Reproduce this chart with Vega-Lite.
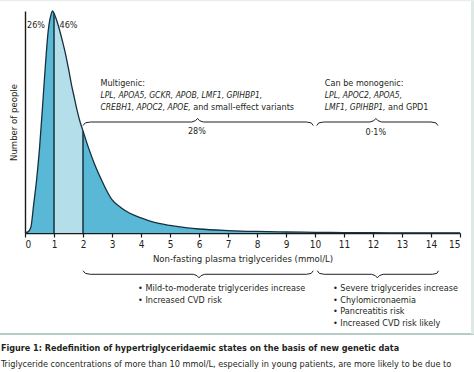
{
  "$schema": "https://vega.github.io/schema/vega-lite/v6.json",
  "width": 435,
  "height": 222,
  "autosize": {"type": "none"},
  "padding": {"left": 25, "top": 11, "right": 14, "bottom": 139},
  "background": "#ffffff",
  "config": {
    "view": {"stroke": null},
    "font": "DejaVu Sans Condensed, Lato, sans-serif",
    "text": {"font": "DejaVu Sans Condensed, Lato, sans-serif", "color": "#231f20", "baseline": "middle"}
  },
  "datasets": {
    "curve": [
      {"x": 0, "y": 0}, {"x": 0.1, "y": 0.5}, {"x": 0.2, "y": 2.5}, {"x": 0.3, "y": 13},
      {"x": 0.4, "y": 24}, {"x": 0.5, "y": 38}, {"x": 0.6, "y": 56}, {"x": 0.7, "y": 75},
      {"x": 0.8, "y": 91}, {"x": 0.9, "y": 98.5}, {"x": 0.95, "y": 100}, {"x": 1.0, "y": 99},
      {"x": 1.1, "y": 95.5}, {"x": 1.2, "y": 91}, {"x": 1.3, "y": 86}, {"x": 1.4, "y": 80.5},
      {"x": 1.5, "y": 74}, {"x": 1.6, "y": 67}, {"x": 1.7, "y": 61}, {"x": 1.8, "y": 55},
      {"x": 1.9, "y": 50}, {"x": 2.0, "y": 46}, {"x": 2.2, "y": 38}, {"x": 2.4, "y": 31},
      {"x": 2.6, "y": 25}, {"x": 2.8, "y": 19.5}, {"x": 3.0, "y": 15}, {"x": 3.3, "y": 11.5},
      {"x": 3.6, "y": 9}, {"x": 4.0, "y": 6.8}, {"x": 4.4, "y": 5}, {"x": 5.0, "y": 3.4},
      {"x": 5.6, "y": 2.3}, {"x": 6.0, "y": 1.8}, {"x": 7.0, "y": 1.1}, {"x": 8.0, "y": 0.7},
      {"x": 9.0, "y": 0.45}, {"x": 10.0, "y": 0.3}, {"x": 11.0, "y": 0.2}, {"x": 12.0, "y": 0.12},
      {"x": 13.0, "y": 0.06}, {"x": 14.0, "y": 0.03}, {"x": 15.0, "y": 0}
    ],
    "braces": [
      {"id": "tl", "o": 0, "x": 2.0, "y": 48.4}, {"id": "tl", "o": 1, "x": 2.08, "y": 49.6}, {"id": "tl", "o": 2, "x": 2.25, "y": 50},
      {"id": "tl", "o": 3, "x": 5.75, "y": 50}, {"id": "tl", "o": 4, "x": 5.88, "y": 50.6}, {"id": "tl", "o": 5, "x": 5.95, "y": 51.6},
      {"id": "tl", "o": 6, "x": 6.02, "y": 50.6}, {"id": "tl", "o": 7, "x": 6.15, "y": 50}, {"id": "tl", "o": 8, "x": 9.7, "y": 50},
      {"id": "tl", "o": 9, "x": 9.87, "y": 49.6}, {"id": "tl", "o": 10, "x": 9.94, "y": 48.4},
      {"id": "tr", "o": 0, "x": 10.06, "y": 48.4}, {"id": "tr", "o": 1, "x": 10.13, "y": 49.6}, {"id": "tr", "o": 2, "x": 10.3, "y": 50},
      {"id": "tr", "o": 3, "x": 11.9, "y": 50}, {"id": "tr", "o": 4, "x": 12.03, "y": 50.6}, {"id": "tr", "o": 5, "x": 12.1, "y": 51.6},
      {"id": "tr", "o": 6, "x": 12.17, "y": 50.6}, {"id": "tr", "o": 7, "x": 12.3, "y": 50}, {"id": "tr", "o": 8, "x": 14.0, "y": 50},
      {"id": "tr", "o": 9, "x": 14.17, "y": 49.6}, {"id": "tr", "o": 10, "x": 14.24, "y": 48.4},
      {"id": "bl", "o": 0, "x": 2.0, "y": -17.0}, {"id": "bl", "o": 1, "x": 2.08, "y": -18.2}, {"id": "bl", "o": 2, "x": 2.25, "y": -18.6},
      {"id": "bl", "o": 3, "x": 5.8, "y": -18.6}, {"id": "bl", "o": 4, "x": 5.93, "y": -19.2}, {"id": "bl", "o": 5, "x": 6.0, "y": -20.2},
      {"id": "bl", "o": 6, "x": 6.07, "y": -19.2}, {"id": "bl", "o": 7, "x": 6.2, "y": -18.6}, {"id": "bl", "o": 8, "x": 9.7, "y": -18.6},
      {"id": "bl", "o": 9, "x": 9.87, "y": -18.2}, {"id": "bl", "o": 10, "x": 9.94, "y": -17.0},
      {"id": "br", "o": 0, "x": 10.08, "y": -17.0}, {"id": "br", "o": 1, "x": 10.15, "y": -18.2}, {"id": "br", "o": 2, "x": 10.32, "y": -18.6},
      {"id": "br", "o": 3, "x": 11.95, "y": -18.6}, {"id": "br", "o": 4, "x": 12.08, "y": -19.2}, {"id": "br", "o": 5, "x": 12.15, "y": -20.2},
      {"id": "br", "o": 6, "x": 12.22, "y": -19.2}, {"id": "br", "o": 7, "x": 12.35, "y": -18.6}, {"id": "br", "o": 8, "x": 14.05, "y": -18.6},
      {"id": "br", "o": 9, "x": 14.2, "y": -18.2}, {"id": "br", "o": 10, "x": 14.26, "y": -17.0}
    ],
    "frame": [
      {"id": "bottom", "x": -0.862, "x2": 15.48, "y": -45.5, "y2": -45.5},
      {"id": "right", "x": 15.43, "x2": 15.43, "y": -45.5, "y2": 104.9},
      {"id": "top", "x": -0.862, "x2": 15.48, "y": 104.7, "y2": 104.7}
    ],
    "labels": [
      {"g": "pct", "x": 0.38, "y": 93.7, "t": "26%"},
      {"g": "pct", "x": 1.5, "y": 93.7, "t": "46%"},
      {"g": "pct", "x": 5.93, "y": 45.9, "t": "28%"},
      {"g": "pct", "x": 12.1, "y": 45.5, "t": "0·1%"},
      {"g": "head", "x": 2.6, "y": 67.6, "t": "Multigenic:"},
      {"g": "head", "x": 10.34, "y": 67.6, "t": "Can be monogenic:"},
      {"g": "ital", "x": 2.6, "y": 62.2, "t": "LPL, APOA5, GCKR, APOB, LMF1, GPIHBP1,"},
      {"g": "ital", "x": 2.6, "y": 56.8, "t": "CREBH1, APOC2, APOE,"},
      {"g": "ital", "x": 10.34, "y": 62.2, "t": "LPL, APOC2, APOA5,"},
      {"g": "ital", "x": 10.34, "y": 56.8, "t": "LMF1, GPIHBP1,"},
      {"g": "after", "x": 5.8, "y": 56.8, "t": "and small-effect variants"},
      {"g": "after", "x": 12.52, "y": 56.8, "t": "and GPD1"},
      {"g": "bullet", "x": 3.9, "y": -24.8, "t": "• Mild-to-moderate triglycerides increase"},
      {"g": "bullet", "x": 3.9, "y": -30.2, "t": "• Increased CVD risk"},
      {"g": "bullet", "x": 10.62, "y": -24.6, "t": "• Severe triglycerides increase"},
      {"g": "bullet", "x": 10.62, "y": -30.0, "t": "• Chylomicronaemia"},
      {"g": "bullet", "x": 10.62, "y": -35.3, "t": "• Pancreatitis risk"},
      {"g": "bullet", "x": 10.62, "y": -40.5, "t": "• Increased CVD risk likely"},
      {"g": "capb", "x": -0.83, "y": -51.6, "t": "Figure 1: Redefinition of hypertriglyceridaemic states on the basis of new genetic data"},
      {"g": "cap", "x": -0.83, "y": -58.8, "t": "Triglyceride concentrations of more than 10 mmol/L, especially in young patients, are more likely to be due to"}
    ]
  },
  "encoding": {
    "x": {
      "field": "x", "type": "quantitative",
      "scale": {"domain": [0, 15], "nice": false, "zero": false},
      "axis": {
        "title": "Non-fasting plasma triglycerides (mmol/L)",
        "values": [0,1,2,3,4,5,6,7,8,9,10,11,12,13,14,15],
        "format": "d", "grid": false,
        "labelFontSize": 10, "labelColor": "#231f20", "labelFont": "DejaVu Sans Condensed, Lato, sans-serif",
        "tickSize": 4, "tickColor": "#1a1a1a", "tickWidth": 1.2,
        "domainColor": "#1a1a1a", "domainWidth": 1.4,
        "labelPadding": 2, "titlePadding": 4,
        "titleFontSize": 9.5, "titleFontWeight": "normal", "titleColor": "#231f20", "titleFont": "DejaVu Sans Condensed, Lato, sans-serif"
      }
    },
    "y": {
      "field": "y", "type": "quantitative",
      "scale": {"domain": [0, 100], "nice": false, "zero": false},
      "axis": {
        "title": "Number of people", "labels": false, "ticks": false, "grid": false,
        "domainColor": "#1a1a1a", "domainWidth": 1.4,
        "titlePadding": 7, "titleFontSize": 9.5, "titleFontWeight": "normal", "titleColor": "#231f20", "titleFont": "DejaVu Sans Condensed, Lato, sans-serif"
      }
    }
  },
  "layer": [
    {
      "data": {"name": "curve"},
      "transform": [{"filter": "datum.x <= 1"}],
      "mark": {"type": "area", "interpolate": "monotone", "color": "#58b8d6", "opacity": 1}
    },
    {
      "data": {"name": "curve"},
      "transform": [{"filter": "datum.x >= 1 && datum.x <= 2"}],
      "mark": {"type": "area", "interpolate": "monotone", "color": "#b5deeb", "opacity": 1}
    },
    {
      "data": {"name": "curve"},
      "transform": [{"filter": "datum.x >= 2"}],
      "mark": {"type": "area", "interpolate": "monotone", "color": "#58b8d6", "opacity": 1}
    },
    {
      "data": {"name": "curve"},
      "transform": [{"filter": "datum.x == 1 || datum.x == 2"}],
      "mark": {"type": "rule", "color": "#16303e", "strokeWidth": 1.5},
      "encoding": {"y2": {"datum": 0}}
    },
    {
      "data": {"name": "curve"},
      "mark": {"type": "line", "interpolate": "monotone", "color": "#16303e", "strokeWidth": 1.3}
    },
    {
      "data": {"name": "braces"},
      "mark": {"type": "line", "color": "#231f20", "strokeWidth": 1},
      "encoding": {"detail": {"field": "id"}, "order": {"field": "o", "type": "quantitative"}}
    },
    {
      "data": {"name": "frame"},
      "transform": [{"filter": "datum.id == 'bottom'"}],
      "mark": {"type": "rule", "color": "#9dbcb3", "strokeWidth": 1.5},
      "encoding": {"x2": {"field": "x2"}, "y2": {"field": "y2"}}
    },
    {
      "data": {"name": "frame"},
      "transform": [{"filter": "datum.id == 'right'"}],
      "mark": {"type": "rule", "color": "#dde9e5", "strokeWidth": 3},
      "encoding": {"x2": {"field": "x2"}, "y2": {"field": "y2"}}
    },
    {
      "data": {"name": "frame"},
      "transform": [{"filter": "datum.id == 'top'"}],
      "mark": {"type": "rule", "color": "#e6efec", "strokeWidth": 1.5},
      "encoding": {"x2": {"field": "x2"}, "y2": {"field": "y2"}}
    },
    {
      "data": {"name": "labels"},
      "transform": [{"filter": "datum.g == 'pct'"}],
      "mark": {"type": "text", "align": "center", "fontSize": 9},
      "encoding": {"text": {"field": "t"}}
    },
    {
      "data": {"name": "labels"},
      "transform": [{"filter": "datum.g == 'head'"}],
      "mark": {"type": "text", "align": "left", "fontSize": 9},
      "encoding": {"text": {"field": "t"}}
    },
    {
      "data": {"name": "labels"},
      "transform": [{"filter": "datum.g == 'ital'"}],
      "mark": {"type": "text", "align": "left", "fontSize": 8.5, "fontStyle": "italic"},
      "encoding": {"text": {"field": "t"}}
    },
    {
      "data": {"name": "labels"},
      "transform": [{"filter": "datum.g == 'after'"}],
      "mark": {"type": "text", "align": "left", "fontSize": 9},
      "encoding": {"text": {"field": "t"}}
    },
    {
      "data": {"name": "labels"},
      "transform": [{"filter": "datum.g == 'bullet'"}],
      "mark": {"type": "text", "align": "left", "fontSize": 9},
      "encoding": {"text": {"field": "t"}}
    },
    {
      "data": {"name": "labels"},
      "transform": [{"filter": "datum.g == 'capb'"}],
      "mark": {"type": "text", "align": "left", "fontSize": 9, "fontWeight": "bold"},
      "encoding": {"text": {"field": "t"}}
    },
    {
      "data": {"name": "labels"},
      "transform": [{"filter": "datum.g == 'cap'"}],
      "mark": {"type": "text", "align": "left", "fontSize": 9.1},
      "encoding": {"text": {"field": "t"}}
    }
  ]
}
